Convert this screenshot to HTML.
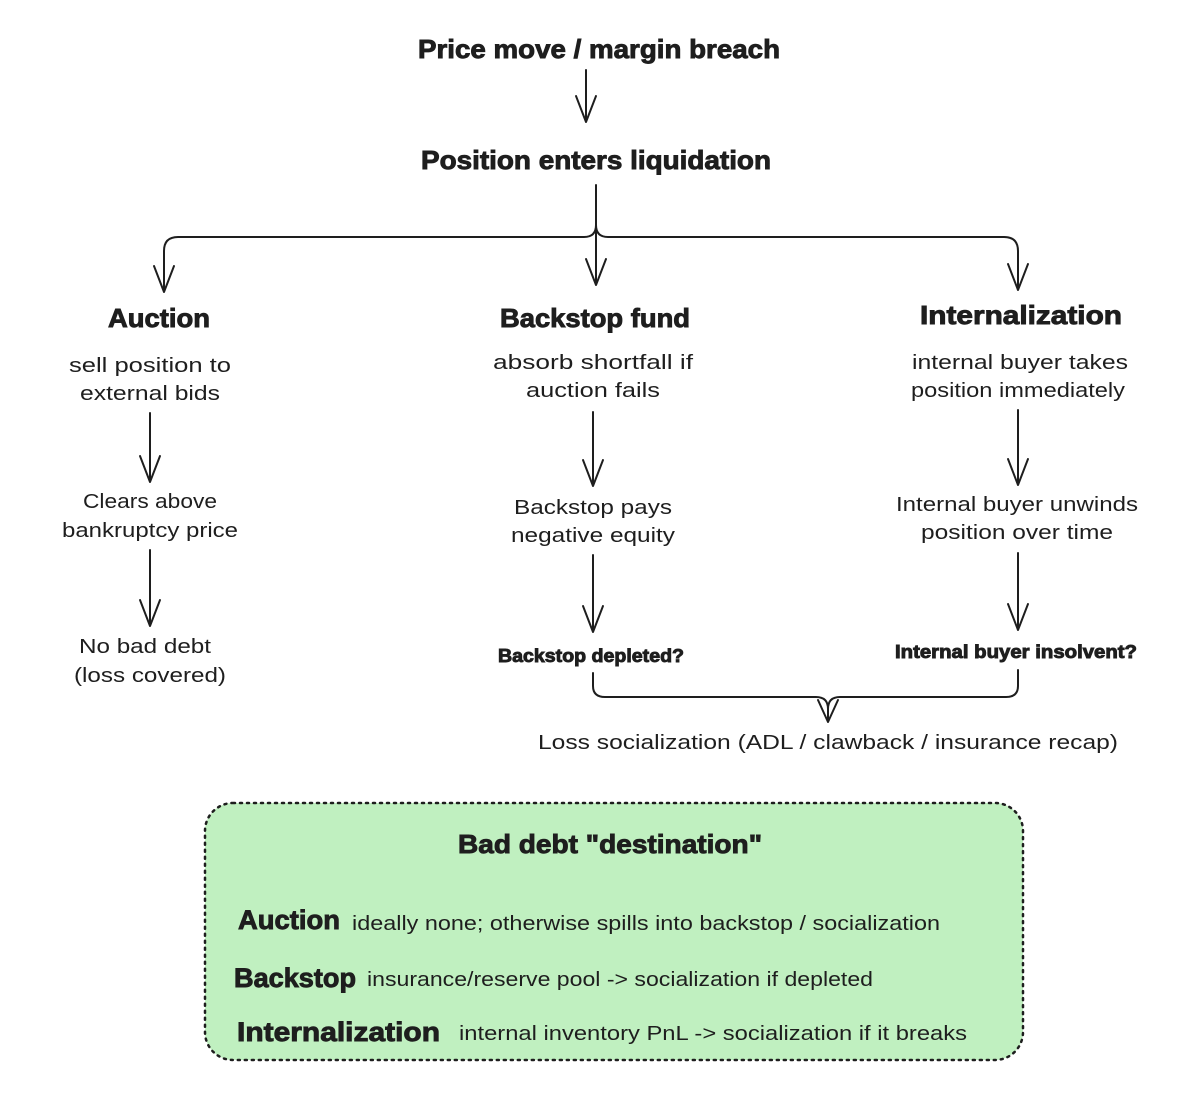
<!DOCTYPE html>
<html><head><meta charset="utf-8"><style>
html,body{margin:0;padding:0;background:#fff}
svg{display:block}
.b{font-family:"Liberation Sans",sans-serif;font-weight:bold;fill:#1e1e1e;stroke:#1e1e1e;stroke-width:0.9}
.h{font-family:"Liberation Sans",sans-serif;fill:#1e1e1e;font-size:20px}
.l{stroke:#1e1e1e;stroke-width:2;fill:none;stroke-linecap:round;stroke-linejoin:round}
</style></head><body>
<svg width="1200" height="1107" viewBox="0 0 1200 1107" xmlns="http://www.w3.org/2000/svg">
<rect width="1200" height="1107" fill="#fff"/>
<text class="b" x="599" y="58" font-size="26" text-anchor="middle" textLength="362" lengthAdjust="spacingAndGlyphs">Price move / margin breach</text>
<path class="l" d="M586 70 L586 122 M576 96 L586 122 L596 96"/>
<text class="b" x="596" y="169" font-size="26" text-anchor="middle" textLength="350" lengthAdjust="spacingAndGlyphs">Position enters liquidation</text>
<path class="l" d="M596 185 L596 285 M586 259 L596 285 L606 259"/>
<path class="l" d="M596 225 Q596 237 584 237 L178 237 Q164 237 164 251 L164 292 M154 266 L164 292 L174 266"/>
<path class="l" d="M596 225 Q596 237 608 237 L1004 237 Q1018 237 1018 251 L1018 290 M1008 264 L1018 290 L1028 264"/>
<text class="b" x="159" y="327" font-size="26" text-anchor="middle" textLength="102" lengthAdjust="spacingAndGlyphs">Auction</text>
<text class="b" x="595" y="327" font-size="26" text-anchor="middle" textLength="190" lengthAdjust="spacingAndGlyphs">Backstop fund</text>
<text class="b" x="1021" y="324" font-size="26" text-anchor="middle" textLength="202" lengthAdjust="spacingAndGlyphs">Internalization</text>
<text class="h" x="150" y="372" text-anchor="middle" textLength="162" lengthAdjust="spacingAndGlyphs">sell position to</text>
<text class="h" x="150" y="400" text-anchor="middle" textLength="140" lengthAdjust="spacingAndGlyphs">external bids</text>
<path class="l" d="M150 413 L150 482 M140 456 L150 482 L160 456"/>
<text class="h" x="150" y="508" text-anchor="middle" textLength="134" lengthAdjust="spacingAndGlyphs">Clears above</text>
<text class="h" x="150" y="537" text-anchor="middle" textLength="176" lengthAdjust="spacingAndGlyphs">bankruptcy price</text>
<path class="l" d="M150 550 L150 626 M140 600 L150 626 L160 600"/>
<text class="h" x="145" y="653" text-anchor="middle" textLength="132" lengthAdjust="spacingAndGlyphs">No bad debt</text>
<text class="h" x="150" y="682" text-anchor="middle" textLength="152" lengthAdjust="spacingAndGlyphs">(loss covered)</text>
<text class="h" x="593" y="369" text-anchor="middle" textLength="200" lengthAdjust="spacingAndGlyphs">absorb shortfall if</text>
<text class="h" x="593" y="397" text-anchor="middle" textLength="134" lengthAdjust="spacingAndGlyphs">auction fails</text>
<path class="l" d="M593 412 L593 486 M583 460 L593 486 L603 460"/>
<text class="h" x="593" y="514" text-anchor="middle" textLength="158" lengthAdjust="spacingAndGlyphs">Backstop pays</text>
<text class="h" x="593" y="542" text-anchor="middle" textLength="164" lengthAdjust="spacingAndGlyphs">negative equity</text>
<path class="l" d="M593 555 L593 632 M583 606 L593 632 L603 606"/>
<text class="b" x="591" y="662" font-size="18" text-anchor="middle" textLength="186" lengthAdjust="spacingAndGlyphs">Backstop depleted?</text>
<text class="h" x="1020" y="369" text-anchor="middle" textLength="216" lengthAdjust="spacingAndGlyphs">internal buyer takes</text>
<text class="h" x="1018" y="397" text-anchor="middle" textLength="214" lengthAdjust="spacingAndGlyphs">position immediately</text>
<path class="l" d="M1018 410 L1018 485 M1008 459 L1018 485 L1028 459"/>
<text class="h" x="1017" y="511" text-anchor="middle" textLength="242" lengthAdjust="spacingAndGlyphs">Internal buyer unwinds</text>
<text class="h" x="1017" y="539" text-anchor="middle" textLength="192" lengthAdjust="spacingAndGlyphs">position over time</text>
<path class="l" d="M1018 553 L1018 630 M1008 604 L1018 630 L1028 604"/>
<text class="b" x="1016" y="658" font-size="18" text-anchor="middle" textLength="242" lengthAdjust="spacingAndGlyphs">Internal buyer insolvent?</text>
<path class="l" d="M593 673 L593 686 Q593 697 605 697 L816 697 Q828 697 828 709 L828 722 M818 700 L828 722 L838 700"/>
<path class="l" d="M1018 670 L1018 686 Q1018 697 1006 697 L840 697 Q828 697 828 709"/>
<text class="h" x="828" y="749" text-anchor="middle" textLength="580" lengthAdjust="spacingAndGlyphs">Loss socialization (ADL / clawback / insurance recap)</text>
<rect x="205" y="803" width="818" height="257" rx="28" fill="#c0f0c0" stroke="#1e1e1e" stroke-width="2.5" stroke-dasharray="2 5" stroke-linecap="round"/>
<text class="b" x="610" y="853" font-size="26" text-anchor="middle" textLength="304" lengthAdjust="spacingAndGlyphs">Bad debt "destination"</text>
<text class="b" x="238" y="929" font-size="27" textLength="102" lengthAdjust="spacingAndGlyphs">Auction</text>
<text class="h" x="352" y="930" textLength="588" lengthAdjust="spacingAndGlyphs">ideally none; otherwise spills into backstop / socialization</text>
<text class="b" x="234" y="987" font-size="27" textLength="122" lengthAdjust="spacingAndGlyphs">Backstop</text>
<text class="h" x="367" y="986" textLength="506" lengthAdjust="spacingAndGlyphs">insurance/reserve pool -&gt; socialization if depleted</text>
<text class="b" x="237" y="1041" font-size="27" textLength="203" lengthAdjust="spacingAndGlyphs">Internalization</text>
<text class="h" x="459" y="1040" textLength="508" lengthAdjust="spacingAndGlyphs">internal inventory PnL -&gt; socialization if it breaks</text>
</svg>
</body></html>
